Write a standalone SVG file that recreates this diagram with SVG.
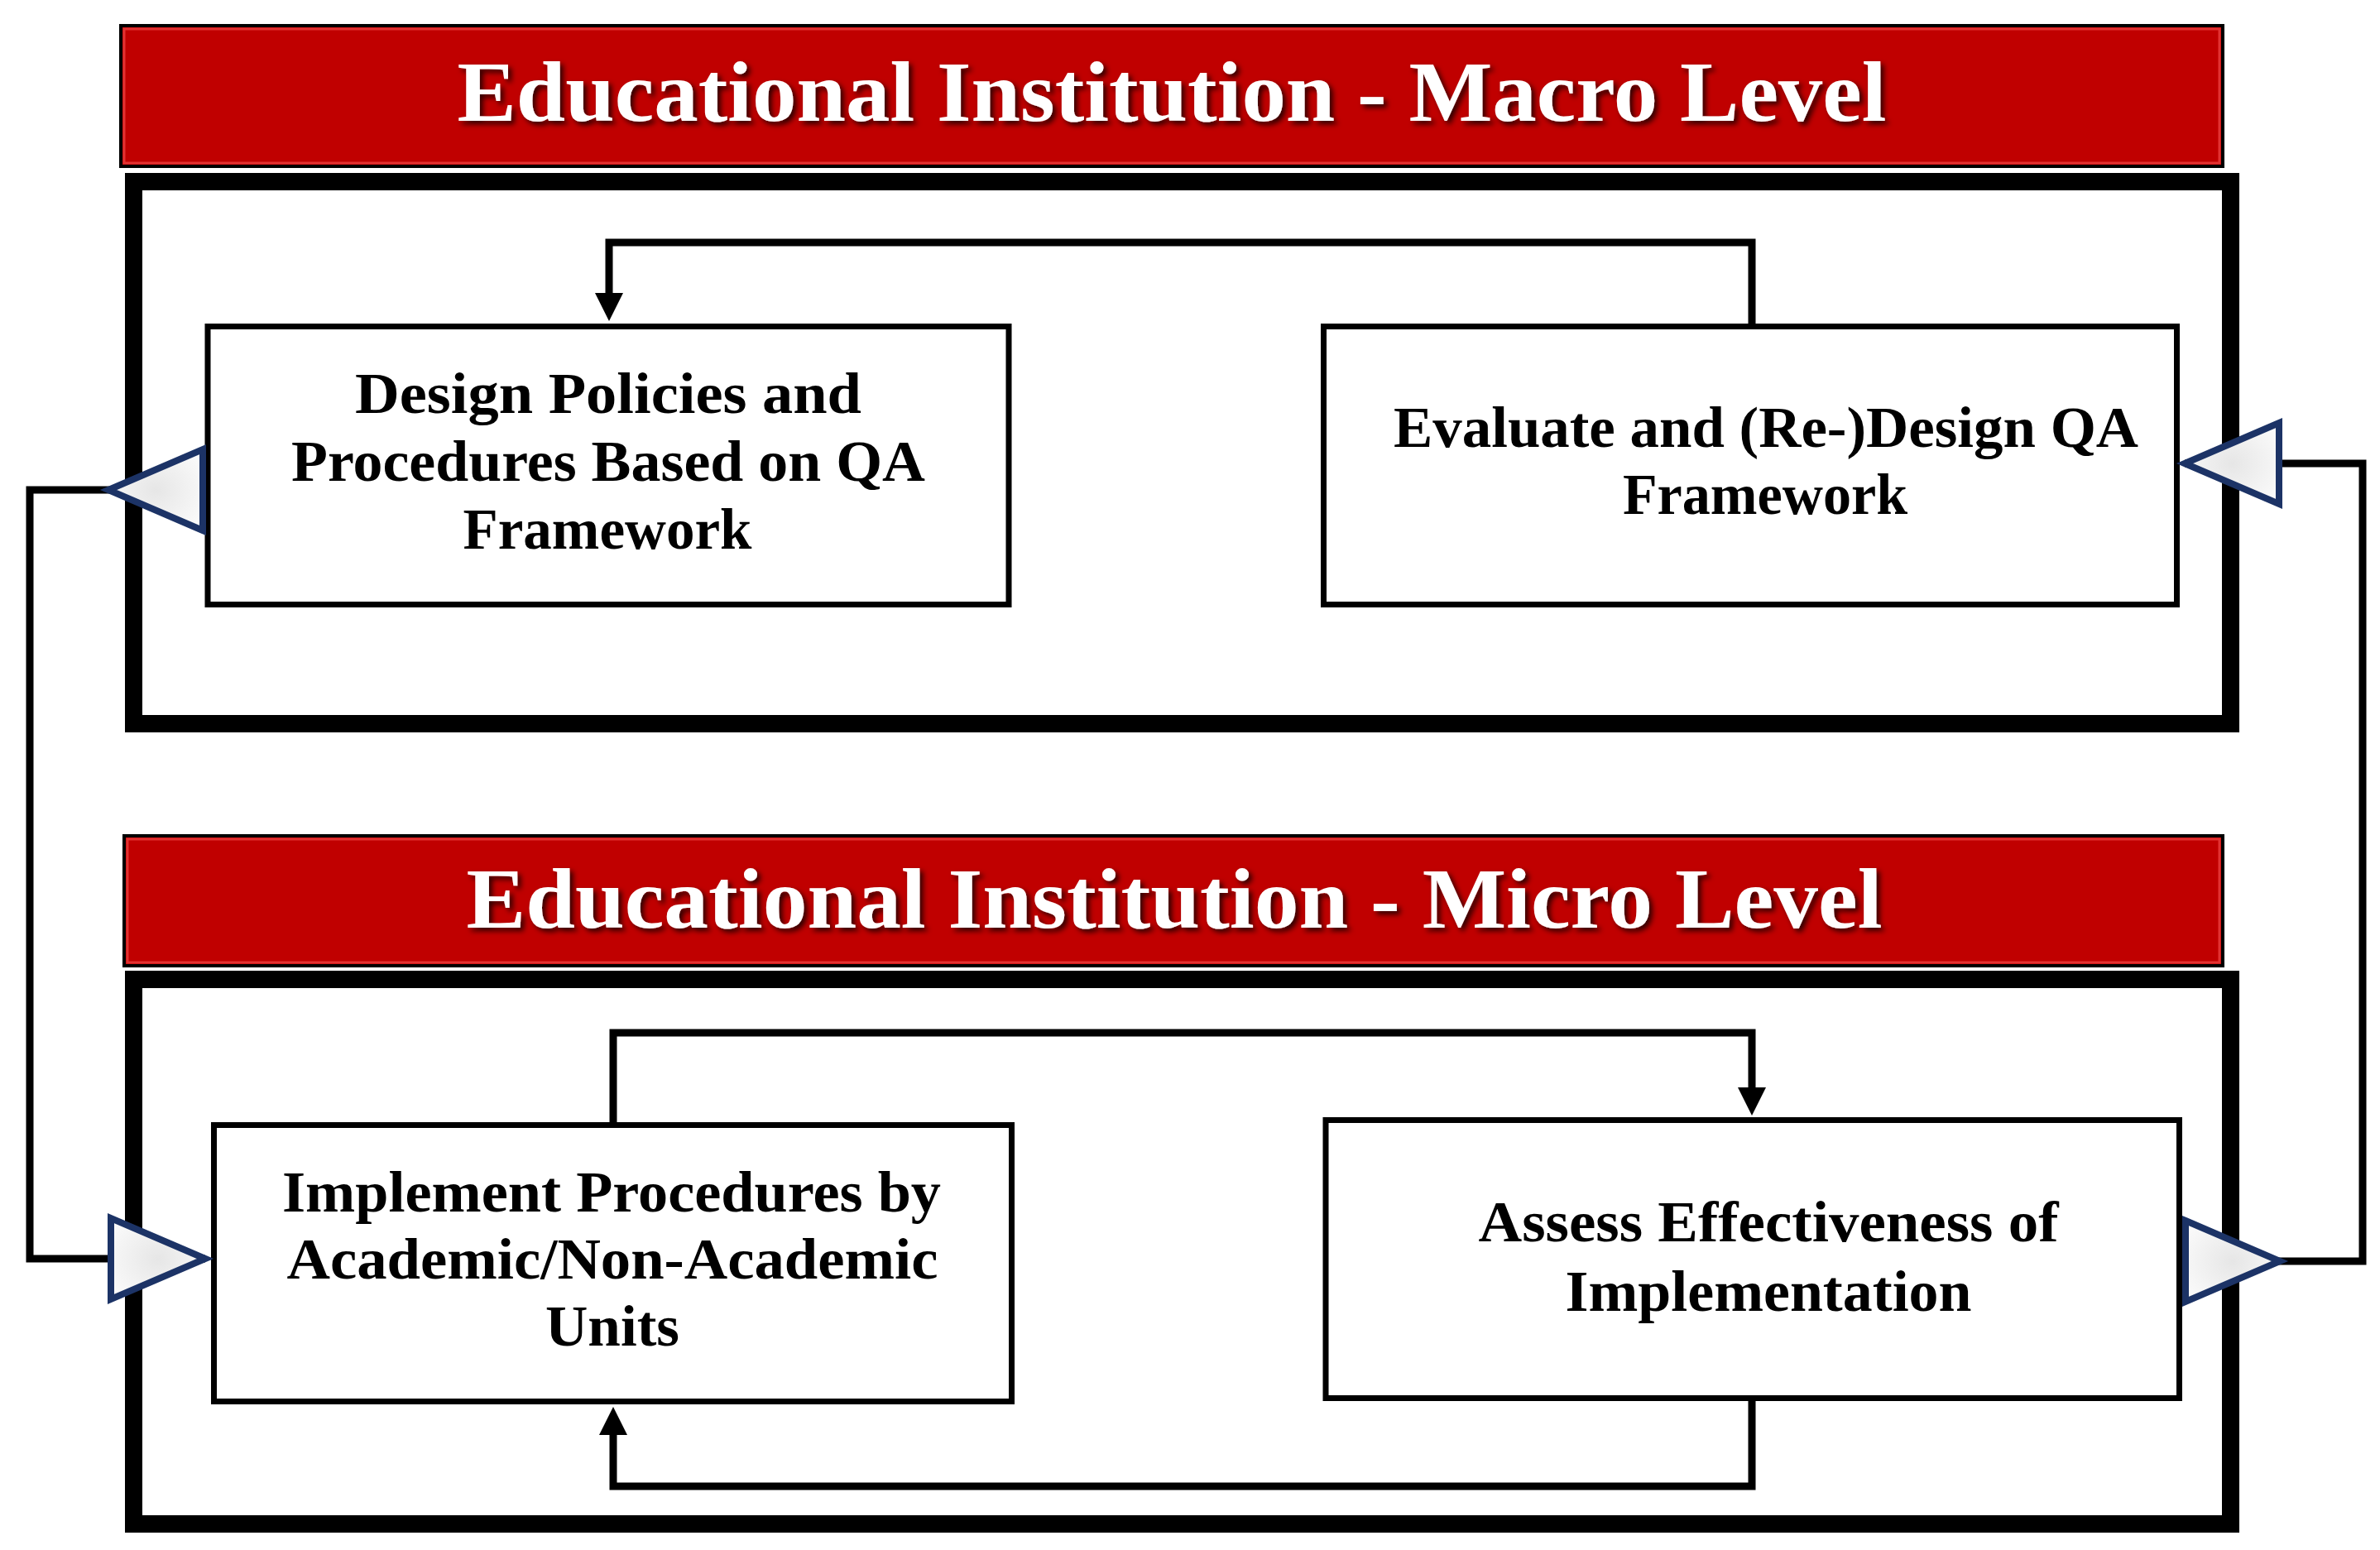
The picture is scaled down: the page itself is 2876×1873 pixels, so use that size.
<svg xmlns="http://www.w3.org/2000/svg" width="2876" height="1873" viewBox="0 0 2876 1873">
<style>
.bg{fill:#ffffff}
.hdr{fill:#c00000;stroke:#000;stroke-width:4}
.hdr-in{fill:none;stroke:#e23232;stroke-width:3}
.hdr-t{font-family:"Liberation Serif","Times New Roman",serif;font-weight:bold;font-size:104px;fill:#ffffff;text-anchor:middle}
.cont{fill:none;stroke:#000;stroke-width:21}
.box{fill:#ffffff;stroke:#000;stroke-width:7}
.lbl{font-family:"Liberation Serif","Times New Roman",serif;font-weight:bold;font-size:70px;fill:#000;text-anchor:middle}
.flow{fill:none;stroke:#000;stroke-width:9;stroke-linejoin:miter;stroke-linecap:butt}
</style>
<defs>
<filter id="shadow" x="-5%" y="-20%" width="110%" height="150%">
<feDropShadow dx="4" dy="4" stdDeviation="3" flood-color="#000" flood-opacity="0.75"/>
</filter>
<radialGradient id="triFill" cx="0.5" cy="0.5" r="0.6">
<stop offset="0" stop-color="#e6e6e6"/>
<stop offset="1" stop-color="#fafafa"/>
</radialGradient>
<marker id="arrow" markerUnits="userSpaceOnUse" markerWidth="34" markerHeight="34" refX="0" refY="17" orient="auto" overflow="visible">
<path d="M0,0 L34,17 L0,34 z" fill="#000"/>
</marker>
<marker id="triOut" markerUnits="userSpaceOnUse" markerWidth="10" markerHeight="10" refX="0" refY="0" orient="auto" overflow="visible">
<path d="M0,-49 L114,0 L0,49 z" fill="url(#triFill)" stroke="#1c3366" stroke-width="8" stroke-linejoin="miter"/>
</marker>
<marker id="triIn" markerUnits="userSpaceOnUse" markerWidth="10" markerHeight="10" refX="0" refY="0" orient="auto" overflow="visible">
<path d="M0,0 L-114,-49 L-114,49 z" fill="url(#triFill)" stroke="#1c3366" stroke-width="8" stroke-linejoin="miter"/>
</marker>
</defs>
<rect class="bg" x="0" y="0" width="2876" height="1873"/>

<g id="macro-level">
<rect class="hdr" x="146" y="31" width="2540" height="170"/>
<rect class="hdr-in" x="150" y="35" width="2532" height="162"/>
<text class="hdr-t" x="1416" y="146" textLength="1727" lengthAdjust="spacingAndGlyphs" filter="url(#shadow)">Educational Institution - Macro Level</text>
<rect class="cont" x="161.5" y="219.5" width="2534" height="655"/>
</g>

<g id="micro-level">
<rect class="hdr" x="150" y="1010" width="2536" height="157"/>
<rect class="hdr-in" x="154" y="1014" width="2528" height="149"/>
<text class="hdr-t" x="1419" y="1121" textLength="1711" lengthAdjust="spacingAndGlyphs" filter="url(#shadow)">Educational Institution - Micro Level</text>
<rect class="cont" x="161.5" y="1183.5" width="2534" height="658"/>
</g>

<g id="design-policies">
<rect class="box" x="251" y="394.5" width="968" height="336"/>
<text class="lbl" x="735" y="499" textLength="612" lengthAdjust="spacingAndGlyphs">Design Policies and</text>
<text class="lbl" x="735" y="581" textLength="766" lengthAdjust="spacingAndGlyphs">Procedures Based on QA</text>
<text class="lbl" x="734" y="663" textLength="349" lengthAdjust="spacingAndGlyphs">Framework</text>
</g>

<g id="evaluate-redesign">
<rect class="box" x="1599.5" y="394.5" width="1031" height="336"/>
<text class="lbl" x="2134" y="540" textLength="900" lengthAdjust="spacingAndGlyphs">Evaluate and (Re-)Design QA</text>
<text class="lbl" x="2133" y="621" textLength="344" lengthAdjust="spacingAndGlyphs">Framework</text>
</g>

<g id="implement-procedures">
<rect class="box" x="258.5" y="1359.5" width="964" height="334"/>
<text class="lbl" x="739" y="1464" textLength="796" lengthAdjust="spacingAndGlyphs">Implement Procedures by</text>
<text class="lbl" x="740" y="1545" textLength="787" lengthAdjust="spacingAndGlyphs">Academic/Non-Academic</text>
<text class="lbl" x="740" y="1626" textLength="162" lengthAdjust="spacingAndGlyphs">Units</text>
</g>

<g id="assess-effectiveness">
<rect class="box" x="1602" y="1353.5" width="1031.5" height="336"/>
<text class="lbl" x="2137" y="1500" textLength="701" lengthAdjust="spacingAndGlyphs">Assess Effectiveness of</text>
<text class="lbl" x="2137" y="1584" textLength="491" lengthAdjust="spacingAndGlyphs">Implementation</text>
</g>

<g id="connectors">
<path class="flow" d="M2117,391 V293 H736 V354" marker-end="url(#arrow)"/>
<path class="flow" d="M741,1356 V1248 H2117 V1314" marker-end="url(#arrow)"/>
<path class="flow" d="M2117,1693 V1796 H741 V1734" marker-end="url(#arrow)"/>
<path class="flow" d="M245,592 H36 V1521 H248" marker-start="url(#triOut)" marker-end="url(#triIn)"/>
<path class="flow" d="M2641,1524 H2855 V560 H2640" marker-start="url(#triOut)" marker-end="url(#triIn)"/>
</g>
</svg>
